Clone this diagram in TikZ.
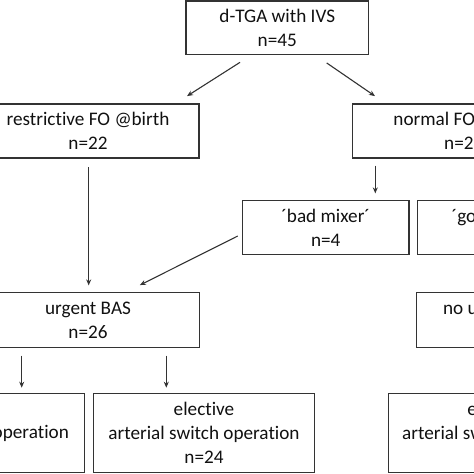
\documentclass[tikz,border=0pt]{standalone}
\usepackage{fontspec}
\setmainfont{Carlito}[Ligatures=NoCommon]
\usetikzlibrary{arrows.meta}
\definecolor{linecol}{HTML}{333333}
\definecolor{txtcol}{HTML}{111111}
\tikzset{
  box/.style={draw=linecol, line width=1.2pt, rectangle, align=center, inner sep=0pt,
    text=txtcol, font=\fontsize{19.2}{24}\selectfont},
  arr/.style={draw=linecol, line width=1.1pt, -{Stealth[length=6pt,width=5pt]}}
}
\begin{document}
\begin{tikzpicture}[x=1pt,y=-1pt]
\useasboundingbox (0,0) rectangle (474,474);
\clip (0,0) rectangle (474,474);
\fill[white] (0,0) rectangle (474,474);
\node[box, minimum width=182.7pt, minimum height=53.3pt] (top) at (277.3,27.7) {d-TGA with IVS\\n=45};
\node[box, minimum width=222pt, minimum height=54pt] (restr) at (88,131) {restrictive FO @birth\\n=22};
\node[box, minimum width=222pt, minimum height=54pt] (normal) at (463.8,131) {normal FO @birth\\n=23};
\node[box, minimum width=166.7pt, minimum height=54pt] (bad) at (325.7,227.7) {´bad mixer´\\n=4};
\node[box, minimum width=166.7pt, minimum height=54pt] (good) at (501,227.7) {´good mixer´\\n=19};
\node[box, minimum width=222.6pt, minimum height=55.4pt] (urgent) at (88,320) {urgent BAS\\n=26};
\node[box, minimum width=163.2pt, minimum height=55.4pt] (nourgent) at (498.3,320) {no urgent BAS\\n=19};
\node[box, minimum width=222pt, minimum height=78.6pt] (bl) at (-26.7,433) {arterial switch operation};
\node[box, minimum width=221.4pt, minimum height=78.6pt] (elective) at (204,433) {elective\\arterial switch operation\\n=24};
\node[box, minimum width=218.8pt, minimum height=78.6pt] (br) at (497.7,433) {elective\\arterial switch operation\\n=19};
\draw[arr] ([xshift=-37.3pt,yshift=-7.4pt]top.south) -- ([xshift=99pt,yshift=7.3pt]restr.north);
\draw[arr] ([xshift=49.4pt,yshift=-8pt]top.south) -- ([xshift=-88.8pt,yshift=7.3pt]normal.north);
\draw[arr] ([xshift=0.7pt,yshift=-8.7pt]restr.south) -- ([xshift=0.7pt,yshift=6.3pt]urgent.north);
\draw[arr] ([xshift=-88.5pt,yshift=-7pt]normal.south) -- ([xshift=49.6pt,yshift=6.7pt]bad.north);
\draw[arr] ([xshift=-4pt,yshift=-8.3pt]bad.west) -- ([xshift=-60pt,yshift=6.6pt]urgent.north east);
\draw[arr] ([xshift=-66.3pt,yshift=-7.3pt]urgent.south) -- ([xshift=48.4pt,yshift=5.4pt]bl.north);
\draw[arr] ([xshift=78.3pt,yshift=-7.3pt]urgent.south) -- ([xshift=-37.7pt,yshift=5.4pt]elective.north);
\end{tikzpicture}
\end{document}
